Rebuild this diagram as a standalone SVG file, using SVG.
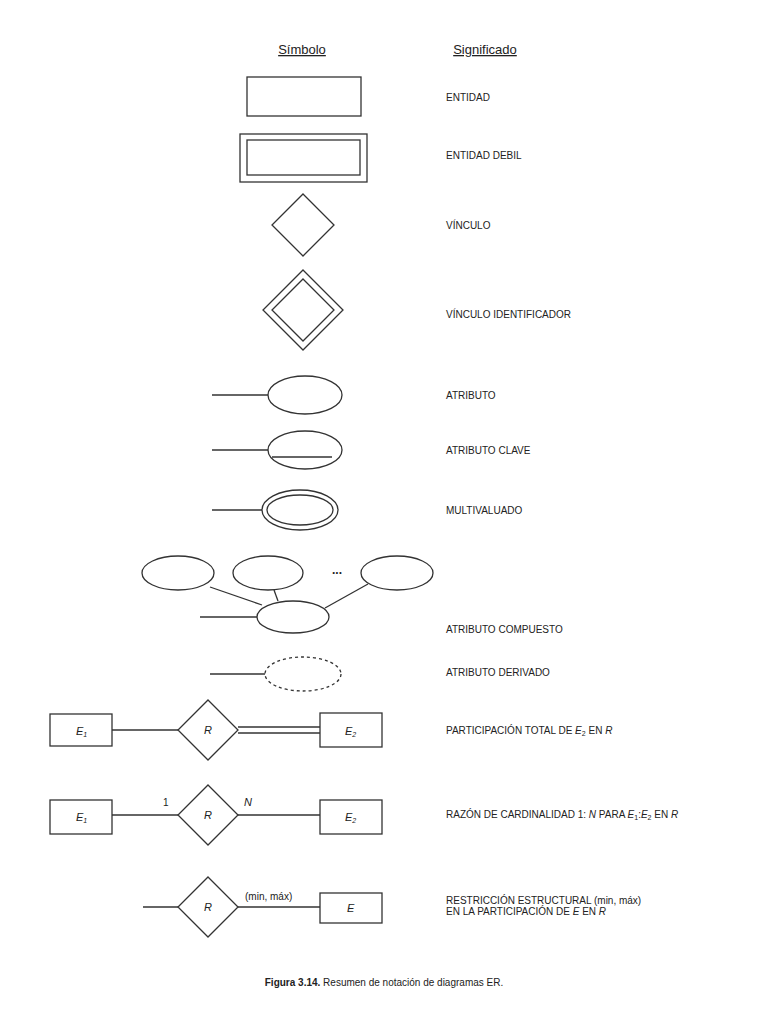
<svg xmlns="http://www.w3.org/2000/svg" width="768" height="1024" viewBox="0 0 768 1024">
<style>
.s{fill:#fff;stroke:#333;stroke-width:1.3}
.l{stroke:#333;stroke-width:1.3;fill:none}
.t{font-family:"Liberation Sans",Arial,sans-serif;font-size:10px;fill:#222}
.h{font-family:"Liberation Sans",Arial,sans-serif;font-size:13px;fill:#222;text-decoration:underline}
.i{font-family:"Liberation Sans",Arial,sans-serif;font-size:11px;font-style:italic;fill:#222}
</style>
<rect width="768" height="1024" fill="#fff"/>
<text class="h" x="302" y="54" text-anchor="middle">Símbolo</text>
<text class="h" x="485" y="54" text-anchor="middle">Significado</text>
<g id="connectors">
<line class="l" x1="212" y1="395" x2="268" y2="395"/>
<line class="l" x1="212" y1="450" x2="268" y2="450"/>
<line class="l" x1="212" y1="510" x2="262" y2="510"/>
<line class="l" x1="210" y1="587" x2="262" y2="605"/>
<line class="l" x1="274" y1="590" x2="278" y2="601"/>
<line class="l" x1="325" y1="608" x2="368" y2="584"/>
<line class="l" x1="200" y1="617" x2="257" y2="617"/>
<line class="l" x1="210" y1="674" x2="265" y2="674"/>
<line class="l" x1="112" y1="730" x2="178" y2="730"/>
<line class="l" x1="238" y1="727" x2="320" y2="727"/>
<line class="l" x1="238" y1="733" x2="320" y2="733"/>
<line class="l" x1="112" y1="815" x2="178" y2="815"/>
<line class="l" x1="238" y1="815" x2="320" y2="815"/>
<line class="l" x1="143" y1="907" x2="178" y2="907"/>
<line class="l" x1="238" y1="907" x2="320" y2="907"/>
</g>
<g id="entidad"><rect class="s" x="247" y="77" width="114" height="39"/><text class="t" x="446" y="101">ENTIDAD</text></g>
<g id="debil"><rect class="s" x="240" y="134" width="127" height="48"/><rect class="s" x="247" y="140" width="113" height="35"/><text class="t" x="446" y="159">ENTIDAD DEBIL</text></g>
<g id="vinculo"><polygon class="s" points="303,194 334,225 303,256 272,225"/><text class="t" x="446" y="229">VÍNCULO</text></g>
<g id="identificador"><polygon class="s" points="303,270 343,310 303,350 263,310"/><polygon class="s" points="303,279 334,310 303,341 272,310"/><text class="t" x="446" y="318">VÍNCULO IDENTIFICADOR</text></g>
<g id="atributo"><ellipse class="s" cx="305" cy="395" rx="37" ry="19"/><text class="t" x="446" y="399">ATRIBUTO</text></g>
<g id="clave"><ellipse class="s" cx="305" cy="450" rx="37" ry="19"/><line class="l" x1="272" y1="457" x2="332" y2="457"/><text class="t" x="446" y="454">ATRIBUTO CLAVE</text></g>
<g id="multi"><ellipse class="s" cx="300" cy="510" rx="38" ry="20"/><ellipse class="s" cx="300" cy="510" rx="33" ry="15"/><text class="t" x="446" y="514">MULTIVALUADO</text></g>
<g id="compuesto">
<ellipse class="s" cx="178" cy="573" rx="36" ry="17"/><ellipse class="s" cx="268" cy="573" rx="35" ry="17"/><ellipse class="s" cx="397" cy="573" rx="36" ry="17"/>
<text x="332" y="574" font-family="Liberation Sans,sans-serif" font-size="12" font-weight="bold" fill="#222">...</text>
<ellipse class="s" cx="293" cy="617" rx="36" ry="16"/>
<text class="t" x="446" y="633">ATRIBUTO COMPUESTO</text></g>
<g id="derivado"><ellipse class="l" cx="303" cy="674" rx="38" ry="17" stroke-dasharray="3,3"/><text class="t" x="446" y="676">ATRIBUTO DERIVADO</text></g>
<g id="participacion">
<rect class="s" x="50" y="714" width="62" height="32"/><text class="i" x="76" y="735">E<tspan font-size="7" dy="2">1</tspan></text>
<polygon class="s" points="208,700 238,730 208,760 178,730"/><text class="i" x="204" y="734">R</text>
<rect class="s" x="320" y="713" width="62" height="34"/><text class="i" x="345" y="735">E<tspan font-size="7" dy="2">2</tspan></text>
<text class="t" x="446" y="734">PARTICIPACIÓN TOTAL DE <tspan font-style="italic">E</tspan><tspan font-size="7" dy="2">2</tspan><tspan dy="-2"> EN </tspan><tspan font-style="italic">R</tspan></text></g>
<g id="cardinalidad">
<rect class="s" x="50" y="800" width="62" height="34"/><text class="i" x="76" y="821">E<tspan font-size="7" dy="2">1</tspan></text>
<polygon class="s" points="208,785 238,815 208,845 178,815"/><text class="i" x="204" y="819">R</text>
<text class="t" x="163" y="806">1</text><text class="i" x="244" y="806">N</text>
<rect class="s" x="320" y="800" width="62" height="34"/><text class="i" x="345" y="821">E<tspan font-size="7" dy="2">2</tspan></text>
<text class="t" x="446" y="818">RAZÓN DE CARDINALIDAD 1: <tspan font-style="italic">N</tspan> PARA <tspan font-style="italic">E</tspan><tspan font-size="7" dy="2">1</tspan><tspan dy="-2">:</tspan><tspan font-style="italic">E</tspan><tspan font-size="7" dy="2">2</tspan><tspan dy="-2"> EN </tspan><tspan font-style="italic">R</tspan></text></g>
<g id="estructural">
<polygon class="s" points="208,877 238,907 208,937 178,907"/><text class="i" x="204" y="911">R</text>
<text class="t" x="245" y="900">(min, máx)</text>
<rect class="s" x="320" y="893" width="62" height="30"/><text class="i" x="347" y="912">E</text>
<text class="t" x="446" y="904">RESTRICCIÓN ESTRUCTURAL (min, máx)</text>
<text class="t" x="446" y="915">EN LA PARTICIPACIÓN DE <tspan font-style="italic">E</tspan> EN <tspan font-style="italic">R</tspan></text></g>
<text x="384" y="986" text-anchor="middle" font-family="Liberation Sans,sans-serif" font-size="10" fill="#222"><tspan font-weight="bold">Figura 3.14.</tspan>   Resumen de notación de diagramas ER.</text>
</svg>
